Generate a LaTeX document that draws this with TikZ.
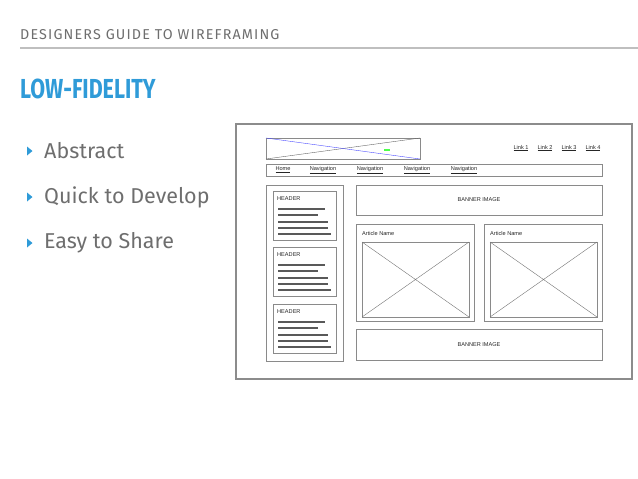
\documentclass[tikz,border=0pt]{standalone}
\usepackage{fontspec}
\setmainfont{Fira Sans}
\newfontfamily\wf{Liberation Sans}
\definecolor{tgray}{HTML}{6E6E6E}
\definecolor{tblue}{HTML}{2F9BD8}
\definecolor{wgray}{HTML}{8A8A8A}
\begin{document}
\begin{tikzpicture}[x=1pt,y=-1pt,
  wbox/.style={draw=wgray,line width=1pt},
  lbl/.style={font=\wf\fontsize{5.6}{6}\selectfont,inner sep=0pt,text=black!85},
  txtline/.style={draw=black!65,line width=1.6pt},
  bul/.style={anchor=west,font=\fontsize{21.5}{24}\selectfont,text=tgray,inner sep=0pt}]
\useasboundingbox (0,0) rectangle (638,479);
\node[anchor=west,inner sep=0pt,text=tgray,font=\fontsize{14.3}{16}\selectfont\addfontfeature{LetterSpace=8}] (t) at (20,35) {DESIGNERS GUIDE TO WIREFRAMING};
\draw[black!25,line width=1.2pt] (20,48) -- (638,48);
\node[anchor=west,inner sep=0pt,text=tblue,font=\fontsize{27.5}{30}\selectfont\bfseries\addfontfeature{FakeStretch=0.78}] (h) at (20,89) {LOW-FIDELITY};
\foreach \y/\t [count=\i] in {151/Abstract,197/Quick to Develop,243/Easy to Share}{
  \fill[tblue] (27,\y-4.5) -- (32.5,\y) -- (27,\y+4.5) -- cycle;
  \node[bul] (b\i) at (44,\y) {\t};
}
% wireframe
\draw[draw=black!45,line width=1.2pt] (236,124) rectangle (632,379);
\draw[wbox] (266,138) rectangle (420,159);
\draw[black!60,line width=0.4pt] (266,159) -- (420,138);
\draw[blue!70,line width=0.4pt] (266,138) -- (420,159);
\fill[green!70] (384,149) rectangle (390,150.5);
\foreach \x/\n in {521/1,545/2,569/3,593/4}
  \node[lbl] (lk\n) at (\x,148) {\underline{Link \n}};
\draw[wbox] (266,164) rectangle (602,176);
\node[lbl] (home) at (283,170) {\underline{Home}};
\foreach \x/\n in {323/1,370/2,417/3,464/4}
  \node[lbl] (nav\n) at (\x,170) {\underline{Navigation}};
\draw[wbox] (266,185) rectangle (343,361);
\foreach \y in {191,247,304}{
  \draw[wbox] (273,\y) rectangle (336,\y+49);
  \node[lbl,anchor=west] at (277,\y+8) {HEADER};
  \foreach \dy/\e in {18/325,24/318,31/328,37/328,43/331}
    \draw[txtline] (278,\y+\dy) -- (\e,\y+\dy);
}
\draw[wbox] (356,185) rectangle (602,215);
\node[lbl] (ban1) at (479,200) {BANNER IMAGE};
\foreach \xa/\xb/\i in {356/474/1,484/602/2}{
  \draw[wbox] (\xa,224) rectangle (\xb,321);
  \node[lbl,anchor=west] (an\i) at (\xa+6,233) {Article Name};
  \draw[wbox] (\xa+6,242) rectangle (\xb-5,317);
  \draw[black!55,line width=0.4pt] (\xa+6,242) -- (\xb-5,317) (\xa+6,317) -- (\xb-5,242);
}
\draw[wbox] (356,329) rectangle (602,360);
\node[lbl] (ban2) at (479,344.5) {BANNER IMAGE};
\end{tikzpicture}
\end{document}
